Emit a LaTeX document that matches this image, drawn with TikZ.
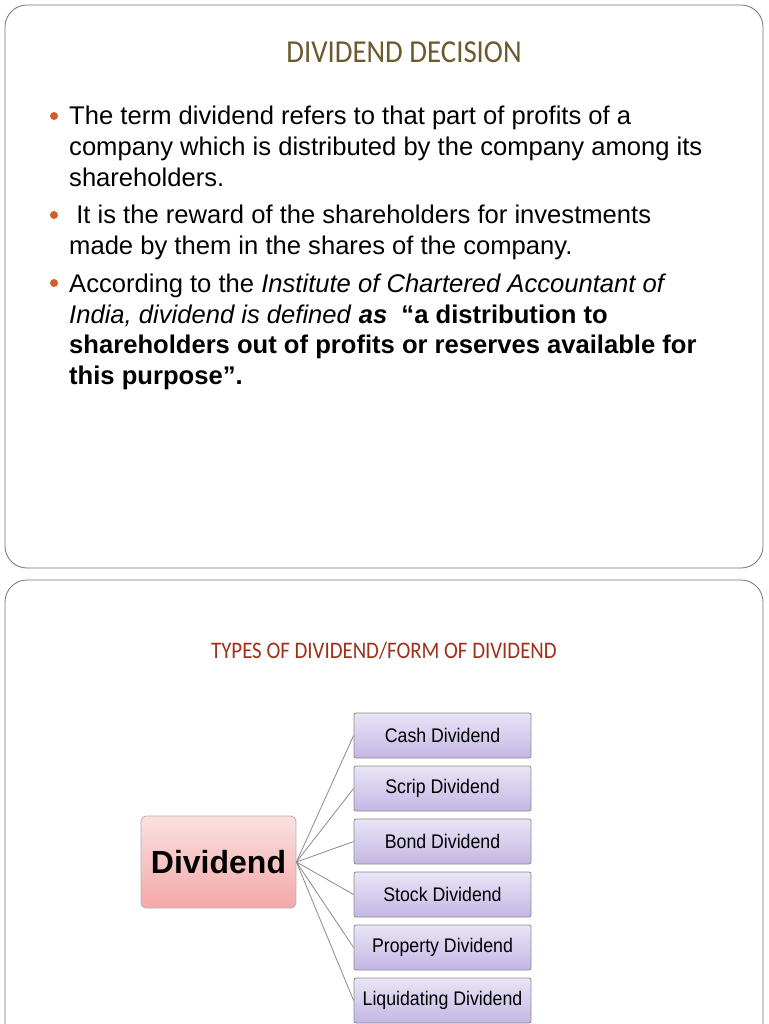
\documentclass[tikz,border=0pt]{standalone}
\usepackage{fontspec}
\setmainfont{Liberation Sans}
\newfontfamily\carlitofont{Carlito}
\definecolor{ttlA}{HTML}{6B5A2E}
\definecolor{ttlB}{HTML}{A0301A}
\definecolor{bul}{HTML}{D0602A}
\definecolor{lil}{HTML}{DCD3F0}
\definecolor{lilB}{HTML}{C4B6E4}
\definecolor{pinkA}{HTML}{FBE0E0}
\definecolor{pinkB}{HTML}{F4A8A8}
\begin{document}
\begin{tikzpicture}[x=1pt,y=-1pt,
  slide/.style={draw=black!55,line width=0.8pt,rounded corners=22pt,fill=white},
  typebox/.style={draw=black!45,line width=0.8pt,rounded corners=2pt,top color=lil!60,bottom color=lilB,minimum width=177pt,minimum height=45pt,font=\fontsize{19.7}{22}\selectfont\addfontfeature{FakeStretch=0.9},inner sep=0pt},
  btxt/.style={anchor=base west,font=\fontsize{25.6}{30}\selectfont,inner sep=0pt},
  dot/.style={circle,fill=bul,inner sep=0pt,minimum size=8pt},
  conn/.style={draw=black!45,line width=0.8pt}]
\useasboundingbox (0,0) rectangle (768,1024);
\fill[white] (0,0) rectangle (768,1024);
\draw[slide] (5,5) rectangle (763,568);
\draw[slide] (5,580) rectangle (763,1060);
\node[text=ttlA,font=\carlitofont\fontsize{32}{36}\selectfont\addfontfeature{FakeStretch=0.9}] (t1) at (404,52) {DIVIDEND DECISION};
\node[dot] (d1) at (54,116) {};
\node[dot] (d2) at (54,215) {};
\node[dot] (d3) at (54,283) {};
\node[btxt] (l1) at (69,125) {The term dividend refers to that part of profits of a};
\node[btxt] (l2) at (69,156) {company which is distributed by the company among its};
\node[btxt] (l3) at (69,187) {shareholders.};
\node[btxt] (l4) at (69,224) {\ It is the reward of the shareholders for investments};
\node[btxt] (l5) at (69,254) {made by them in the shares of the company.};
\node[btxt] (l6) at (69,292) {According to the \textit{Institute of Chartered Accountant of}};
\node[btxt] (l7) at (69,323) {\textit{India, dividend is defined} \textbf{\textit{as}}\ \ \textbf{“a distribution to}};
\node[btxt] (l8) at (69,353) {\textbf{shareholders out of profits or reserves available for}};
\node[btxt] (l9) at (69,384) {\textbf{this purpose”.}};
\node[text=ttlB,font=\carlitofont\fontsize{23.7}{27}\selectfont\addfontfeature{FakeStretch=0.88}] (t2) at (384,651) {TYPES OF DIVIDEND/FORM OF DIVIDEND};
\node[draw=black!30,line width=0.8pt,rounded corners=5pt,top color=pinkA,bottom color=pinkB,minimum width=155pt,minimum height=92pt,font=\fontsize{32}{36}\selectfont\bfseries] (dv) at (218.5,862) {Dividend};
\node[typebox] (b1) at (442.5,735.5) {Cash Dividend};
\node[typebox] (b2) at (442.5,788.5) {Scrip Dividend};
\node[typebox] (b3) at (442.5,841.5) {Bond Dividend};
\node[typebox] (b4) at (442.5,894.5) {Stock Dividend};
\node[typebox] (b5) at (442.5,947.5) {Property Dividend};
\node[typebox] (b6) at (442.5,1000.5) {Liquidating Dividend};
\foreach \b in {b1,b2,b3,b4,b5,b6} \draw[conn] (dv.east) -- (\b.west);
\end{tikzpicture}
\end{document}
